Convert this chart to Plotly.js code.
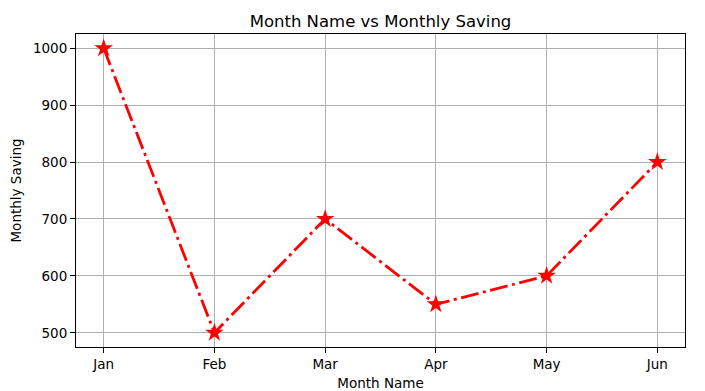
<!DOCTYPE html>
<html>
<head>
<meta charset="utf-8">
<script src="https://cdn.plot.ly/plotly-3.0.1.min.js"></script>
<style>html,body{margin:0;padding:0;background:#fff;}#chart{width:705px;height:391px;}</style>
</head>
<body>
<div id="chart"></div>
<script>
const months = ["Jan", "Feb", "Mar", "Apr", "May", "Jun"];
const savings = [1000, 500, 700, 550, 600, 800];
const yTicks = [500, 600, 700, 800, 900, 1000];

const trace = {
  x: months.map((m, i) => i),
  y: savings,
  type: "scatter",
  mode: "lines+markers",
  line: {color: "#ff0000", width: 2.8, dash: "18px,4.5px,3px,4.5px"},
  marker: {symbol: "star", size: 14, color: "#ff0000", line: {width: 0}},
  hoverinfo: "skip"
};

const axisCommon = {
  showline: true, mirror: true, linecolor: "#000", linewidth: 1,
  ticks: "outside", ticklen: 5, tickwidth: 1, tickcolor: "#000",
  showgrid: true, gridcolor: "#b0b0b0", gridwidth: 1,
  zeroline: false,
  tickfont: {family: "DejaVu Sans", size: 13.5, color: "#000"}
};

const layout = {
  width: 705, height: 391,
  margin: {l: 76, r: 20, t: 34, b: 44},
  paper_bgcolor: "#fff", plot_bgcolor: "#fff",
  font: {family: "DejaVu Sans", color: "#000"},
  showlegend: false,
  title: {text: "Month Name vs Monthly Saving", font: {family: "DejaVu Sans", size: 16.5, color: "#000"},
          x: 0.5, xref: "paper", y: 1, yref: "paper", yanchor: "bottom", pad: {b: 7}},
  xaxis: Object.assign({}, axisCommon, {
    range: [-0.25, 5.25],
    tickmode: "array", tickvals: months.map((m, i) => i), ticktext: months,
    title: {text: "Month Name", font: {family: "DejaVu Sans", size: 13.5, color: "#000"}, standoff: 7}
  }),
  yaxis: Object.assign({}, axisCommon, {
    range: [475, 1025],
    tickmode: "array", tickvals: yTicks, ticktext: yTicks.map(String),
    title: {text: "Monthly Saving", font: {family: "DejaVu Sans", size: 13.5, color: "#000"}, standoff: 8}
  })
};

Plotly.newPlot("chart", [trace], layout, {displayModeBar: false, staticPlot: true});
</script>
</body>
</html>
